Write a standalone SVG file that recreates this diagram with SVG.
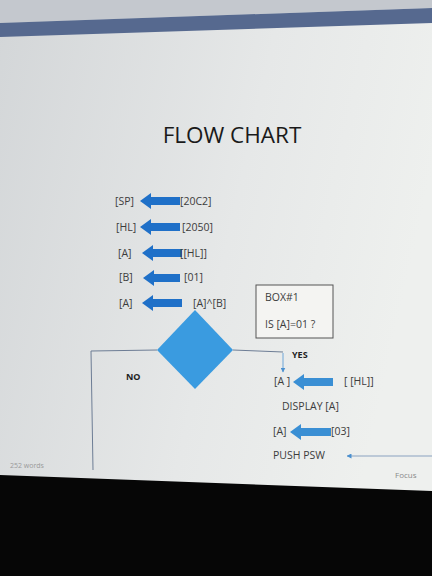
<svg xmlns="http://www.w3.org/2000/svg" width="432" height="576" viewBox="0 0 432 576">
<defs>
<linearGradient id="page" x1="0" y1="0" x2="1" y2="0.3">
<stop offset="0" stop-color="#d3d6d8"/>
<stop offset="0.6" stop-color="#e6e8e8"/>
<stop offset="1" stop-color="#eef0ee"/>
</linearGradient>
<marker id="ah" viewBox="0 0 10 10" refX="9" refY="5" markerWidth="5" markerHeight="5" orient="auto">
<path d="M0,0 L10,5 L0,10 z" fill="#4a90d0"/>
</marker>
<style>
.t{font-family:"Open Sans","Liberation Sans",sans-serif;font-size:10.5px;fill:#3c3c3c}
.b{font-weight:bold;fill:#222}
.arr{fill:#1f70c8}
.arr2{fill:#3a8fd4}
.ln{stroke:#6d7d95;stroke-width:1;fill:none}
</style>
</defs>
<rect width="432" height="576" fill="url(#page)"/>
<polygon points="0,0 432,0 432,8 0,23" fill="#c4c8ce"/>
<polygon points="0,23 432,8 432,23 0,37" fill="#56698f"/>
<polygon points="0,475 432,491 432,576 0,576" fill="#060606"/>
<text x="232" y="143" text-anchor="middle" style="font-family:'Open Sans','Liberation Sans',sans-serif;font-size:22.5px;fill:#1a1a1a">FLOW CHART</text>

<g id="connectors">
<path class="ln" d="M157,350 L91,351 L93,470"/>
<path class="ln" d="M233,350 L283,352"/>
<path d="M283,353 L283,372" stroke="#6fa6d8" stroke-width="1" marker-end="url(#ah)"/>
<path d="M432,456 L347,456" stroke="#8aa2c0" stroke-width="1" marker-end="url(#ah)"/>
</g>

<g id="row1"><text class="t" x="115" y="205">[SP]</text><path class="arr" d="M140,201 L151,193 L151,197 L180,197 L180,205 L151,205 L151,209 Z"/><text class="t" x="180" y="205">[20C2]</text></g>
<g id="row2"><text class="t" x="116" y="231">[HL]</text><path class="arr" d="M140,227 L151,219 L151,223 L180,223 L180,231 L151,231 L151,235 Z"/><text class="t" x="182" y="231">[2050]</text></g>
<g id="row3"><text class="t" x="118" y="257">[A]</text><path class="arr" d="M142,253 L153,245 L153,249 L182,249 L182,257 L153,257 L153,261 Z"/><text class="t" x="180" y="257">[[HL]]</text></g>
<g id="row4"><text class="t" x="119" y="281">[B]</text><path class="arr" d="M143,278 L154,270 L154,274 L180,274 L180,282 L154,282 L154,286 Z"/><text class="t" x="184" y="281">[01]</text></g>
<g id="row5"><text class="t" x="119" y="307">[A]</text><path class="arr" d="M142,303 L153,295 L153,299 L182,299 L182,307 L153,307 L153,311 Z"/><text class="t" x="193" y="307">[A]^[B]</text></g>

<g id="box1"><rect x="256" y="285" width="77" height="53" fill="#f4f4f2" stroke="#555" stroke-width="1"/><text class="t" x="265" y="301">BOX#1</text><text class="t" x="265" y="328">IS [A]=01  ?</text></g>

<g id="decision"><polygon points="195,310 233,350 195,389 157,350" fill="#3a9be0"/></g>
<g id="yes"><text class="t b" x="292" y="358" style="font-size:9px">YES</text></g>
<g id="no"><text class="t b" x="126" y="380" style="font-size:9px">NO</text></g>

<g id="step1"><text class="t" x="274" y="385">[A ]</text><path class="arr2" d="M293,382 L304,374 L304,378 L333,378 L333,386 L304,386 L304,390 Z"/><text class="t" x="344" y="385">[ [HL]]</text></g>
<g id="step2"><text class="t" x="282" y="410">DISPLAY [A]</text></g>
<g id="step3"><text class="t" x="273" y="435">[A]</text><path class="arr2" d="M290,432 L301,424 L301,428 L331,428 L331,436 L301,436 L301,440 Z"/><text class="t" x="331" y="435">[03]</text></g>
<g id="step4"><text class="t" x="273" y="459">PUSH PSW</text></g>

<text x="10" y="468" style="font-family:'Open Sans',sans-serif;font-size:7px;fill:#9a9a9a">252 words</text>
<text x="395" y="478" style="font-family:'Open Sans',sans-serif;font-size:8px;fill:#8a8a8a">Focus</text>
</svg>
